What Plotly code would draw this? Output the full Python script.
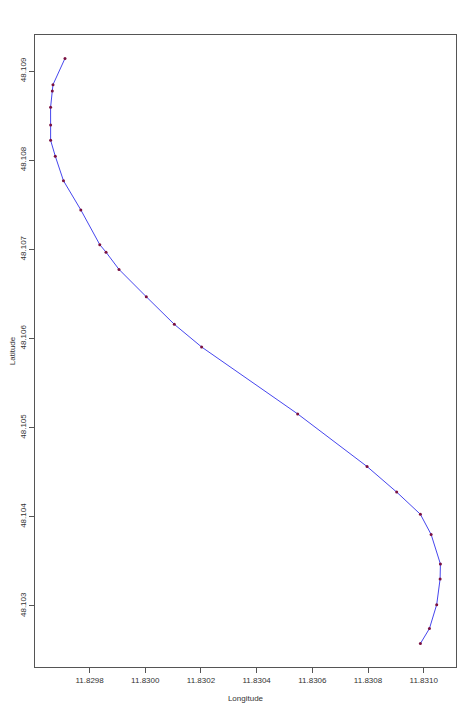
import plotly.graph_objects as go

# GPS track points
longitude = [11.8297116, 11.8296685, 11.8296660, 11.8296599, 11.8296600, 11.8296600,
             11.8296768, 11.8297062, 11.8297684, 11.8298366, 11.8298589, 11.8299056,
             11.8300037, 11.8301043, 11.8302024, 11.8305473, 11.8307966, 11.8309030,
             11.8309881, 11.8310266, 11.8310600, 11.8310589, 11.8310467, 11.8310205,
             11.8309881]
latitude = [48.1091423, 48.1088477, 48.1087760, 48.1085934, 48.1083951, 48.1082237,
            48.1080445, 48.1077700, 48.1074430, 48.1070530, 48.1069690, 48.1067753,
            48.1064684, 48.1061592, 48.1059049, 48.1051544, 48.1045640, 48.1042773,
            48.1040286, 48.1038023, 48.1034707, 48.1033027, 48.1030148, 48.1027459,
            48.1025779]

x_ticks = [11.8298, 11.8300, 11.8302, 11.8304, 11.8306, 11.8308, 11.8310]
y_ticks = [48.103, 48.104, 48.105, 48.106, 48.107, 48.108, 48.109]


def r_range(v):
    lo, hi = min(v), max(v)
    pad = (hi - lo) * 0.04
    return [lo - pad, hi + pad]


fig = go.Figure()
fig.add_trace(go.Scatter(
    x=longitude, y=latitude, mode="lines",
    line=dict(color="#4646ee", width=1), hoverinfo="skip", showlegend=False))
fig.add_trace(go.Scatter(
    x=longitude, y=latitude, mode="markers",
    marker=dict(color="#7a1040", size=3), showlegend=False))

font = dict(family="Liberation Sans, Arial, sans-serif", size=8, color="#333333")
axis_common = dict(
    showgrid=False, zeroline=False, showline=True, mirror=True,
    linecolor="#555555", linewidth=1, ticks="outside", ticklen=5,
    tickcolor="#555555", tickwidth=1, tickfont=font, automargin=False,
)

# the page body adds an 8px margin around the figure
fig.update_layout(
    width=458, height=695,
    paper_bgcolor="white", plot_bgcolor="white",
    margin=dict(l=27, r=10, t=27, b=36, autoexpand=False),
    font=font,
    xaxis=dict(axis_common, range=r_range(longitude), tickvals=x_ticks,
               ticktext=[f"{t:.4f}" for t in x_ticks],
               title=dict(text="Longitude", font=font, standoff=11)),
    yaxis=dict(axis_common, range=r_range(latitude), tickvals=y_ticks,
               ticktext=[f"{t:.3f}" for t in y_ticks], tickangle=-90,
               title=dict(text="Latitude", font=font, standoff=13)),
)

fig.write_html("out.html")
